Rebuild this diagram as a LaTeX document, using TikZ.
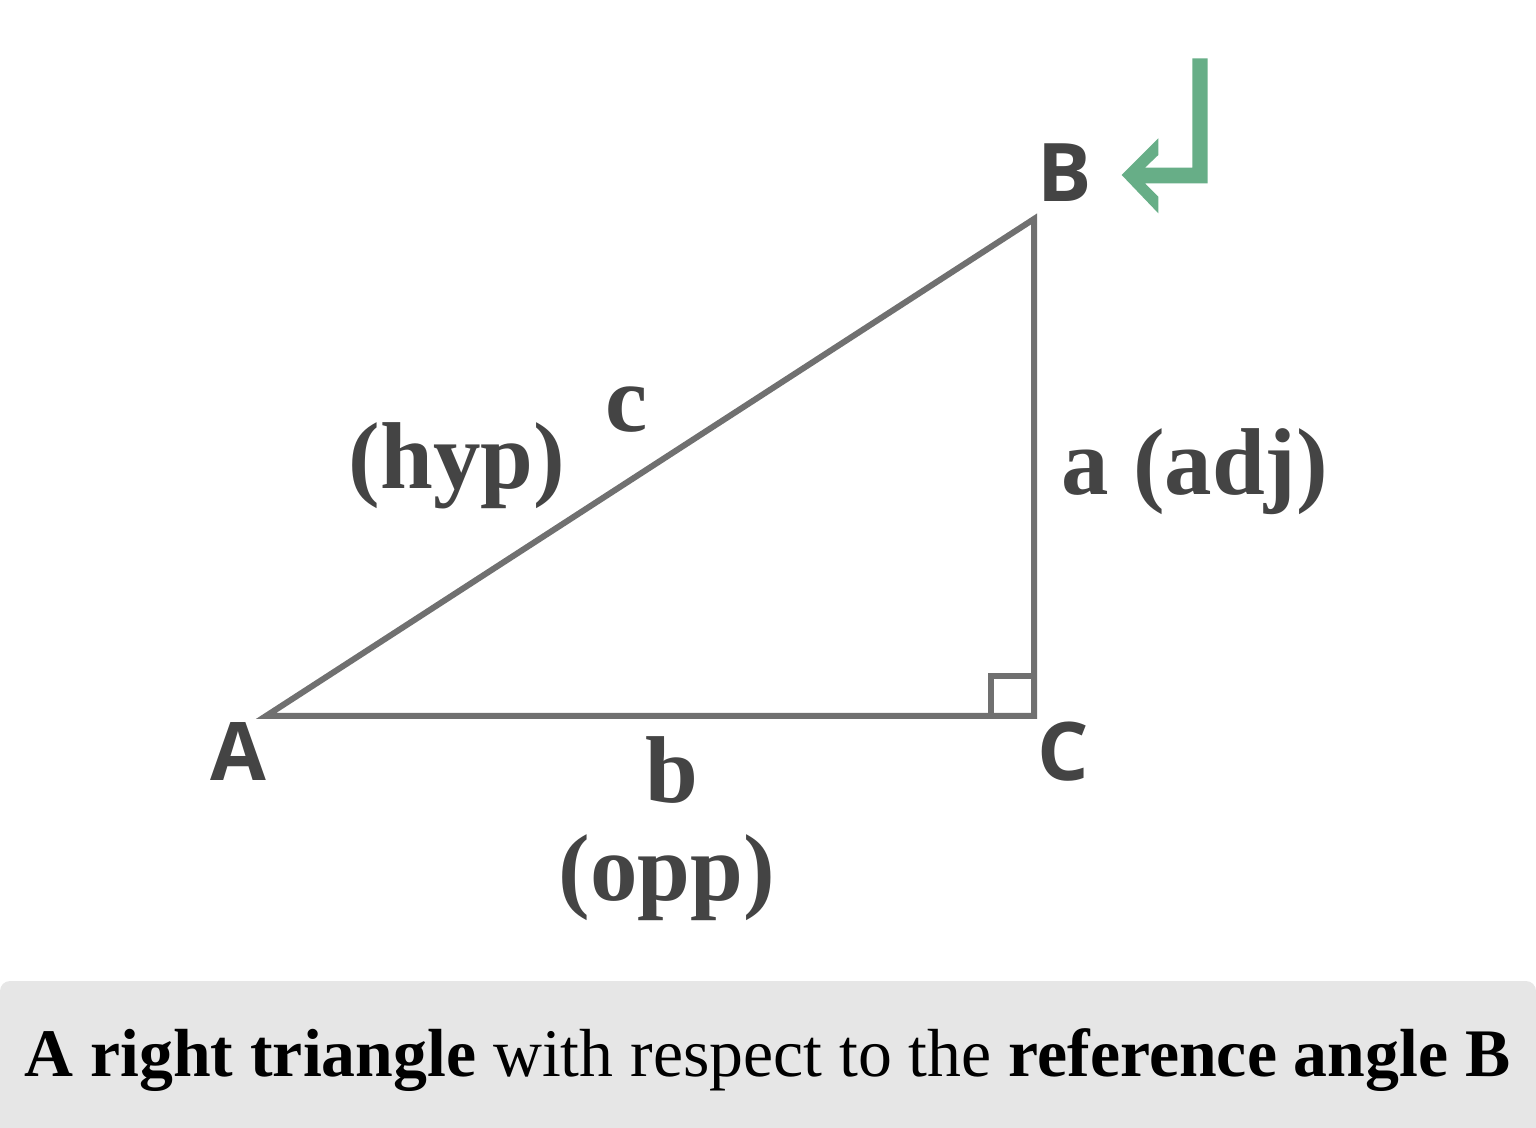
\documentclass[tikz,border=0pt]{standalone}
\usepackage{fontspec}
\usepackage{xcolor}
\usepackage{graphicx}
\usepackage{tikz}
\setmainfont{Liberation Serif}
\newfontfamily\vertexfont{Open Sans}
\definecolor{textgray}{HTML}{444444}
\definecolor{linegray}{HTML}{707070}
\definecolor{arrowgreen}{HTML}{67AE87}
\definecolor{capgray}{HTML}{E6E6E6}

\begin{document}
\begin{tikzpicture}[x=0.01cm, y=-0.01cm,
  side/.style={line width=0.06cm, draw=linegray, line join=miter},
  vertex/.style={anchor=base, inner sep=0pt, text=textgray, font=\vertexfont\bfseries\fontsize{23}{23}\selectfont},
  sidelabel/.style={anchor=base, inner sep=0pt, text=textgray, font=\bfseries\fontsize{27}{27}\selectfont}]
  \useasboundingbox (0,0) rectangle (1536,1128);

  % triangle
  \coordinate (vA) at (266,716);
  \coordinate (vB) at (1034,219);
  \coordinate (vC) at (1034,716);
  \draw[side] (vA) -- (vB) -- (vC) -- cycle;
  \draw[side] (991,716) -- (991,676) -- (1034,676);

  \node[vertex] (A) at (238,781) {A};
  \node[vertex] (B) at (1065,202) {B};
  \node[vertex] (C) at (1063,781) {C};

  \node[sidelabel] (c) at (627,432) {c};
  \node[sidelabel] (hyp) at (457,489) {(hyp)};
  \node[sidelabel] (a) at (1195,495) {a (adj)};
  \node[sidelabel] (b) at (672,803) {b};
  \node[sidelabel] (opp) at (667,901) {(opp)};

  % reference angle arrow
  \fill[arrowgreen] (1121.7,175) -- (1158.3,138.3) -- (1158.3,155) -- (1145,167.7)
    -- (1192.3,167.7) -- (1192.3,58.3) -- (1207.7,58.3) -- (1207.7,183.3)
    -- (1145,183.3) -- (1158.3,196.7) -- (1158.3,213.3) -- cycle;

  % caption
  \fill[capgray, rounded corners=0.1cm] (0,981) rectangle (1536,1140);
  \node[anchor=base, inner sep=0pt, font=\fontsize{19.35}{19.35}\selectfont] (caption) at (767.5,1077)
    {\resizebox{14.85cm}{\height}{\textbf{A right triangle} with respect to the \textbf{reference angle B}}};
\end{tikzpicture}
\end{document}
